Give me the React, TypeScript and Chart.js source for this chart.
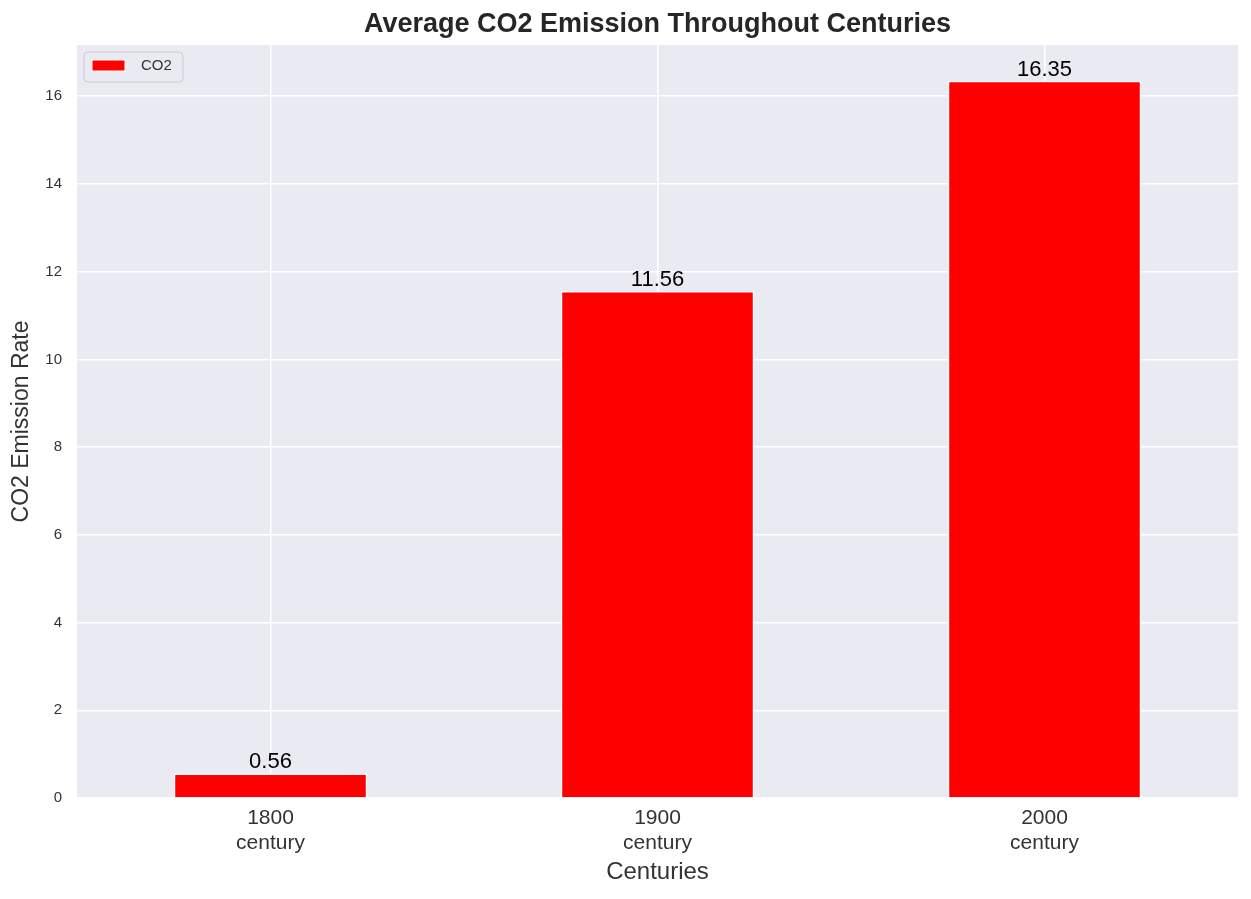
import React, { useEffect, useRef } from "react";
import { Chart, registerables } from "chart.js";

Chart.register(...registerables);

const categories: string[][] = [["1800", "century"], ["1900", "century"], ["2000", "century"]];
const co2Values: number[] = [0.56, 11.56, 16.35];
const valueLabels: string[] = ["0.56", "11.56", "16.35"];
const yTicks: number[] = [0, 2, 4, 6, 8, 10, 12, 14, 16];
const chartTitle = "Average CO2 Emission Throughout Centuries";

const FONT = "'Liberation Sans', Arial, sans-serif";

const bgPlugin = {
  id: "bgPlugin",
  beforeDraw(chart: any) {
    const { ctx, chartArea } = chart;
    ctx.save();
    ctx.fillStyle = "#EAEAF2";
    ctx.fillRect(chartArea.left, chartArea.top, chartArea.right - chartArea.left, chartArea.bottom - chartArea.top);
    ctx.restore();
  },
};

const titlePlugin = {
  id: "titlePlugin",
  afterDraw(chart: any) {
    const { ctx, chartArea } = chart;
    ctx.save();
    ctx.font = `bold 27px ${FONT}`;
    ctx.fillStyle = "#262626";
    ctx.textAlign = "center";
    ctx.textBaseline = "middle";
    ctx.fillText(chartTitle, (chartArea.left + chartArea.right) / 2, 25);
    ctx.restore();
  },
};

const labelPlugin = {
  id: "labelPlugin",
  afterDatasetsDraw(chart: any) {
    const { ctx } = chart;
    const meta = chart.getDatasetMeta(0);
    ctx.save();
    ctx.font = `22px ${FONT}`;
    ctx.fillStyle = "#000000";
    ctx.textAlign = "center";
    ctx.textBaseline = "alphabetic";
    meta.data.forEach((bar: any, i: number) => {
      ctx.fillText(valueLabels[i], bar.x, bar.y - 5);
    });
    ctx.restore();
  },
};

const legendPlugin = {
  id: "legendPlugin",
  afterDraw(chart: any) {
    const { ctx, chartArea } = chart;
    const x = chartArea.left + 7;
    const y = chartArea.top + 7;
    const w = 99;
    const h = 30;
    ctx.save();
    ctx.beginPath();
    (ctx as any).roundRect(x, y, w, h, 4);
    ctx.fillStyle = "rgba(234,234,242,0.8)";
    ctx.fill();
    ctx.strokeStyle = "#CCCCCC";
    ctx.lineWidth = 1;
    ctx.stroke();
    ctx.fillStyle = "#FF0000";
    ctx.fillRect(x + 8, y + 8, 33, 11);
    ctx.strokeStyle = "#FFFFFF";
    ctx.strokeRect(x + 8, y + 8, 33, 11);
    ctx.font = `15px ${FONT}`;
    ctx.fillStyle = "#333333";
    ctx.textAlign = "left";
    ctx.textBaseline = "middle";
    ctx.fillText(chart.data.datasets[0].label, x + 57, y + 14);
    ctx.restore();
  },
};

export default function App() {
  const ref = useRef<HTMLCanvasElement | null>(null);
  useEffect(() => {
    document.body.style.margin = "0";
    if (!ref.current) return;
    const chart = new Chart(ref.current, {
      type: "bar",
      data: {
        labels: categories,
        datasets: [
          {
            label: "CO2",
            data: co2Values,
            backgroundColor: "#FF0000",
            borderColor: "#FFFFFF",
            borderWidth: 1.5,
            barPercentage: 0.5,
            categoryPercentage: 1,
          },
        ],
      },
      options: {
        responsive: false,
        animation: false,
        layout: { padding: { left: 0, right: 13, top: 45, bottom: 0 } },
        plugins: {
          legend: { display: false },
          tooltip: { enabled: false },
          title: { display: false },
        },
        scales: {
          x: {
            grid: { color: "#FFFFFF", lineWidth: 1.5, offset: false, drawTicks: false },
            border: { display: false },
            ticks: {
              color: "#333333",
              font: { family: FONT, size: 21, lineHeight: 1.18 },
              padding: 8,
              maxRotation: 0,
            },
            title: {
              display: true,
              text: "Centuries",
              color: "#333333",
              font: { family: FONT, size: 24, lineHeight: 1.2 },
              padding: { top: 12, bottom: 12 },
            },
            afterFit(scale: any) {
              scale.height = 101;
            },
          },
          y: {
            min: 0,
            max: 17.1675,
            grid: { color: "#FFFFFF", lineWidth: 1.5, drawTicks: false },
            border: { display: false },
            afterBuildTicks(scale: any) {
              scale.ticks = yTicks.map((v) => ({ value: v }));
            },
            ticks: {
              color: "#333333",
              font: { family: FONT, size: 15 },
              padding: 15,
            },
            title: {
              display: true,
              text: "CO2 Emission Rate",
              color: "#333333",
              font: { family: FONT, size: 23, lineHeight: 1.2 },
              padding: { top: 8, bottom: 8 },
            },
            afterFit(scale: any) {
              scale.width = 77;
            },
          },
        },
      },
      plugins: [bgPlugin, labelPlugin, legendPlugin, titlePlugin],
    } as any);
    return () => chart.destroy();
  }, []);
  return <canvas ref={ref} width={1251} height={899} style={{ display: "block" }} />;
}
